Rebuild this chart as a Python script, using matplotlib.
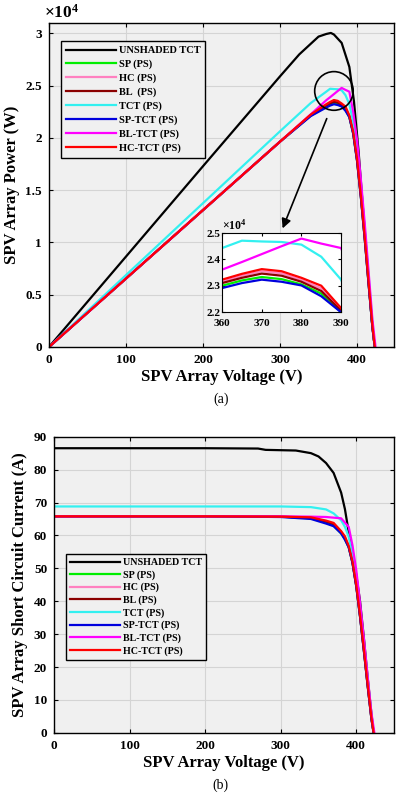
import matplotlib
matplotlib.use("Agg")
from matplotlib import pyplot as plt
from matplotlib.patches import Ellipse
from matplotlib.ticker import FuncFormatter

plt.rcParams['font.family'] = ['Liberation Serif', 'DejaVu Serif']
plt.rcParams['font.weight'] = 'bold'
plt.rcParams['mathtext.fontset'] = 'custom'
plt.rcParams['mathtext.rm'] = 'Liberation Serif'
plt.rcParams['mathtext.default'] = 'rm'

names = ["UNSHADED TCT", "SP (PS)", "HC (PS)", "BL  (PS)", "TCT (PS)",
         "SP-TCT (PS)", "BL-TCT (PS)", "HC-TCT (PS)"]
names_b = ["UNSHADED TCT", "SP (PS)", "HC (PS)", "BL (PS)", "TCT (PS)",
           "SP-TCT (PS)", "BL-TCT (PS)", "HC-TCT (PS)"]
colors = ["black", "#00ee00", "#ff80c0", "#8b0000", "#33f0f0",
          "#0000dd", "#ff00ff", "#ff0000"]

# P-V data (W)
v_unshaded = [0, 100, 200, 300, 325, 350, 360, 366, 370, 380, 390, 396, 402, 407, 414, 419, 423]
p_unshaded = [0, 8650, 17300, 25900, 28000, 29700, 29950, 30050, 29900, 29100, 26800, 23500,
              18700, 13900, 7400, 2600, 0]

v_ps = [0, 100, 200, 300, 340, 360, 365, 370, 375, 380, 385, 390, 395, 400, 405, 410, 415, 420, 423]
p_sp = [0, 6550, 13100, 19650, 22150, 23000, 23200, 23330, 23250, 23050, 22700, 22000,
        20450, 17850, 14350, 10350, 6050, 1900, 0]
p_hc = [0, 6550, 13100, 19650, 22220, 23150, 23380, 23550, 23470, 23220, 22900, 22100,
        20500, 17900, 14400, 10400, 6100, 1900, 0]
p_bl = [0, 6550, 13100, 19650, 22180, 23100, 23300, 23460, 23380, 23150, 22800, 22050,
        20480, 17880, 14380, 10380, 6080, 1900, 0]
p_tct = [0, 6880, 13760, 20640, 23350, 24430, 24710, 24680, 24660, 24560, 24100, 23230,
         21500, 19000, 15500, 11300, 6800, 2300, 0]
p_sptct = [0, 6550, 13100, 19650, 22100, 22910, 23100, 23230, 23150, 23010, 22600, 21990,
           20400, 17800, 14300, 10300, 6000, 1850, 0]
p_hctct = [0, 6550, 13100, 19650, 22250, 23230, 23450, 23630, 23550, 23300, 23000, 22150,
           20600, 18000, 14500, 10500, 6200, 2000, 0]
v_bltct = [0, 100, 200, 300, 340, 360, 365, 370, 375, 380, 385, 390, 395, 400, 405, 410, 415, 420, 424]
p_bltct = [0, 6550, 13100, 19650, 22270, 23610, 23900, 24200, 24500, 24790, 24600, 24430,
           22500, 19800, 16000, 11800, 7200, 2600, 0]

# I-V data (A)
v_iv_uns = [0, 100, 200, 270, 280, 320, 340, 350, 360, 370, 380, 385, 390, 395, 400, 405, 410, 415, 420, 423]
i_uns = [86.5, 86.5, 86.5, 86.4, 86.0, 85.8, 85.0, 84.0, 82.0, 79.0, 73.0, 68.0, 61.0, 55.0,
         48.0, 40.0, 29.0, 17.0, 6.0, 0]
v_iv = [0, 100, 200, 300, 340, 360, 370, 380, 385, 390, 395, 400, 405, 410, 415, 420, 423]
i_sp = [65.8, 65.8, 65.8, 65.7, 65.2, 63.9, 63.0, 60.6, 58.9, 56.4, 51.8, 44.6, 35.4, 25.2, 14.6, 4.5, 0]
i_hc = [65.8, 65.8, 65.8, 65.7, 65.4, 64.3, 63.6, 61.1, 59.5, 56.7, 51.9, 44.8, 35.6, 25.4, 14.7, 4.5, 0]
i_bl = [65.8, 65.8, 65.8, 65.7, 65.3, 64.2, 63.4, 60.9, 59.2, 56.5, 51.8, 44.7, 35.5, 25.3, 14.6, 4.5, 0]
i_tct = [68.8, 68.8, 68.8, 68.8, 68.6, 67.9, 66.7, 64.6, 62.6, 59.6, 54.4, 47.5, 38.3, 27.6, 16.4, 5.5, 0]
i_sptct = [65.8, 65.8, 65.8, 65.6, 65.0, 63.6, 62.8, 60.6, 58.7, 56.4, 51.6, 44.5, 35.3, 25.1, 14.5, 4.4, 0]
i_hctct = [65.8, 65.8, 65.8, 65.7, 65.5, 64.5, 63.8, 61.3, 59.7, 56.8, 52.1, 45.0, 35.8, 25.6, 14.9, 4.8, 0]
v_iv_bltct = [0, 100, 200, 300, 340, 360, 370, 380, 385, 390, 395, 400, 405, 410, 415, 420, 424]
i_bltct = [65.8, 65.8, 65.8, 65.8, 65.7, 65.6, 65.4, 65.2, 63.9, 62.6, 57.0, 49.5, 39.5, 28.8, 17.3, 6.2, 0]

pv_series = [(v_unshaded, p_unshaded), (v_ps, p_sp), (v_ps, p_hc), (v_ps, p_bl), (v_ps, p_tct),
             (v_ps, p_sptct), (v_bltct, p_bltct), (v_ps, p_hctct)]
iv_series = [(v_iv_uns, i_uns), (v_iv, i_sp), (v_iv, i_hc), (v_iv, i_bl), (v_iv, i_tct),
             (v_iv, i_sptct), (v_iv_bltct, i_bltct), (v_iv, i_hctct)]

bg = "#f0f0f0"
gridc = "#d4d4d4"

fig = plt.figure(figsize=(3.98, 7.94), dpi=100)

# ---- top: P-V ----
ax1 = fig.add_axes([0.123, 0.563, 0.867, 0.408])
for (v, p), c, n in zip(pv_series, colors, names):
    ax1.plot(v, p, color=c, lw=1.6, label=n)
ax1.set_xlim(0, 448)
ax1.set_ylim(0, 31000)
ax1.set_xticks([0, 100, 200, 300, 400])
ax1.set_yticks([0, 5000, 10000, 15000, 20000, 25000, 30000])
ax1.yaxis.set_major_formatter(FuncFormatter(lambda y, pos: f"{y / 1e4:g}"))
ax1.set_facecolor(bg)
ax1.grid(True, color=gridc, lw=0.8)
ax1.tick_params(direction='in', top=True, right=True, labelsize=9.5, length=3, pad=5)
ax1.set_xlabel("SPV Array Voltage (V)", fontsize=12, fontweight='bold', labelpad=2)
ax1.set_ylabel("SPV Array Power (W)", fontsize=12, fontweight='bold', labelpad=4)
ax1.text(-0.015, 1.003, r"$\times 10^4$", transform=ax1.transAxes, fontsize=12.5,
         va='bottom', ha='left')
leg1 = ax1.legend(loc='upper left', bbox_to_anchor=(0.02, 0.96), fontsize=7.5, frameon=True,
                  fancybox=False, edgecolor='black', handlelength=4.8, labelspacing=0.42,
                  borderpad=0.45, handletextpad=0.3, framealpha=1)
leg1.get_frame().set_linewidth(1.0)
leg1.get_frame().set_facecolor(bg)
for s in ax1.spines.values():
    s.set_linewidth(1.0)

ax1.add_patch(Ellipse((370, 24500), 50, 3700, fill=False, edgecolor='black', lw=1.2, zorder=5))
ax1.annotate("", xy=(302, 11100), xytext=(362, 22100),
             arrowprops=dict(arrowstyle='-|>', color='black', lw=1.2, mutation_scale=14))

# inset
axin = fig.add_axes([0.558, 0.607, 0.299, 0.0995])
for (v, p), c in zip(pv_series[1:], colors[1:]):
    axin.plot(v, p, color=c, lw=1.6)
axin.set_xlim(360, 390)
axin.set_ylim(22000, 25000)
axin.set_xticks([360, 370, 380, 390])
axin.set_yticks([22000, 23000, 24000, 25000])
axin.yaxis.set_major_formatter(FuncFormatter(lambda y, pos: f"{y / 1e4:g}"))
axin.tick_params(direction='in', top=True, right=True, labelsize=8.0, length=2)
axin.tick_params(axis='x', pad=5)
axin.tick_params(axis='y', pad=1.5)
axin.set_facecolor("white")
axin.text(0.0, 1.01, r"$\times 10^4$", transform=axin.transAxes, fontsize=8.5,
          va='bottom', ha='left')

fig.text(0.555, 0.493, "(a)", ha='center', fontsize=10, fontweight='normal')

# ---- bottom: I-V ----
ax2 = fig.add_axes([0.136, 0.077, 0.854, 0.373])
for (v, i), c, n in zip(iv_series, colors, names_b):
    ax2.plot(v, i, color=c, lw=1.6, label=n)
ax2.set_xlim(0, 450)
ax2.set_ylim(0, 90)
ax2.set_xticks([0, 100, 200, 300, 400])
ax2.set_yticks(range(0, 91, 10))
ax2.set_facecolor(bg)
ax2.grid(True, color=gridc, lw=0.8)
ax2.tick_params(direction='in', top=True, right=True, labelsize=9.5, length=3, pad=5)
ax2.set_xlabel("SPV Array Voltage (V)", fontsize=12, fontweight='bold', labelpad=2)
ax2.set_ylabel("SPV Array Short Circuit Current (A)", fontsize=12, fontweight='bold', labelpad=4)
leg2 = ax2.legend(loc='upper left', bbox_to_anchor=(0.02, 0.62), fontsize=7.2, frameon=True,
                  fancybox=False, edgecolor='black', handlelength=5.0, labelspacing=0.3,
                  borderpad=0.4, handletextpad=0.3, framealpha=1)
leg2.get_frame().set_linewidth(1.0)
leg2.get_frame().set_facecolor(bg)
for s in ax2.spines.values():
    s.set_linewidth(1.0)

fig.text(0.555, 0.003, "(b)", ha='center', va='bottom', fontsize=10, fontweight='normal')

fig.savefig("out.png", dpi=100)
